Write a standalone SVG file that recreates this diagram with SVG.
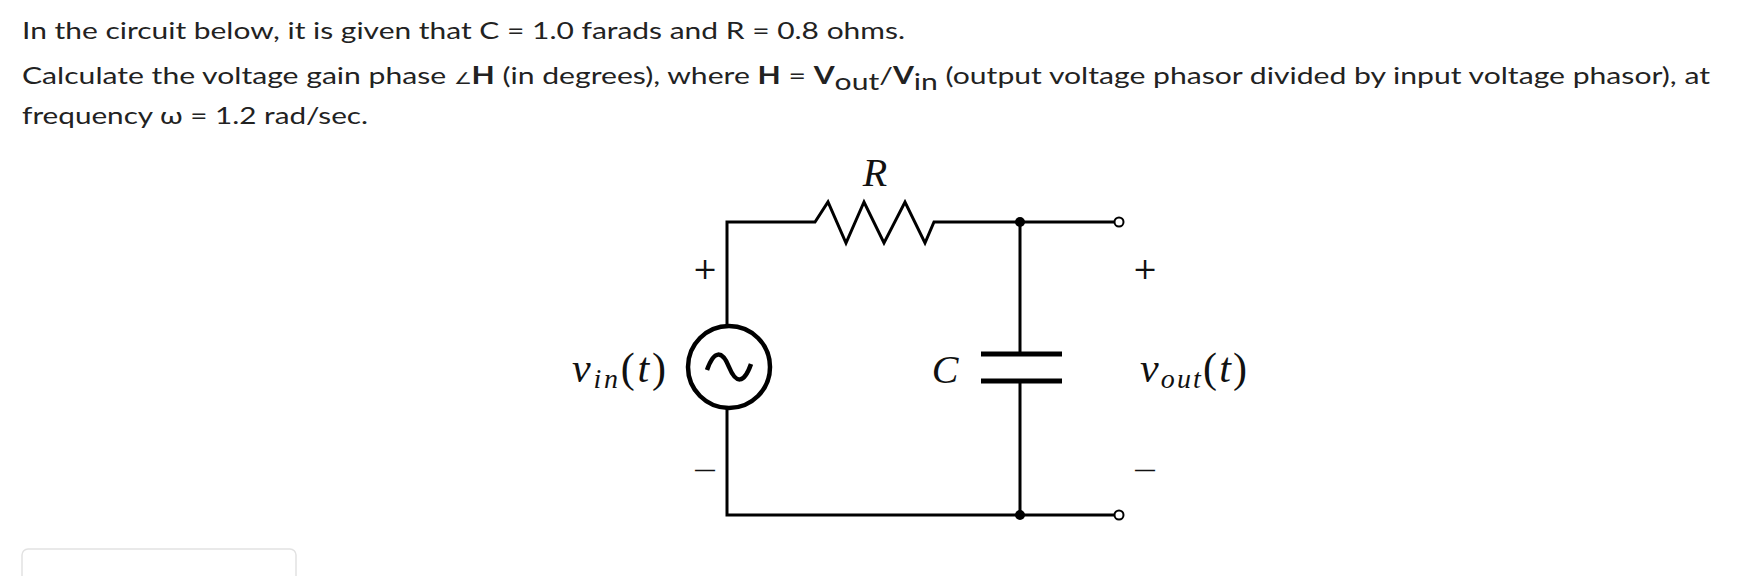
<svg xmlns="http://www.w3.org/2000/svg" width="1750" height="576" viewBox="0 0 1750 576">
<style>
.t{font-family:Lato,"Liberation Sans",sans-serif;font-size:24px;fill:#222}
.m{font-family:"Liberation Serif",serif;font-style:italic;fill:#111}
.s{font-family:"DejaVu Serif",serif;fill:#111}
.w{stroke:#000;stroke-width:3;fill:none}
</style>
<rect width="1750" height="576" fill="#fff"/>
<g id="text">
<text class="t" x="22" y="39" textLength="883" lengthAdjust="spacingAndGlyphs">In the circuit below, it is given that C = 1.0 farads and R = 0.8 ohms.</text>
<text class="t" x="22" y="84" textLength="1688" lengthAdjust="spacingAndGlyphs">Calculate the voltage gain phase <tspan font-size="16">∠</tspan><tspan font-weight="bold">H</tspan> (in degrees), where <tspan font-weight="bold">H</tspan> = <tspan font-weight="bold">V</tspan><tspan dy="6">out</tspan><tspan dy="-6">/</tspan><tspan font-weight="bold">V</tspan><tspan dy="6">in</tspan><tspan dy="-6"> (output voltage phasor divided by input voltage phasor), at</tspan></text>
<text class="t" x="22" y="124" textLength="346" lengthAdjust="spacingAndGlyphs">frequency ω = 1.2 rad/sec.</text>
</g>
<g id="connectors">
<path class="w" d="M727 325 V222 H815 L828 202 L846 243 L864 202 L884 243 L905 202 L925 243 L934 222 H1116"/>
<path class="w" d="M727 409 V515 H1116"/>
<path class="w" d="M1020 222 V354 M1020 381 V515"/>
</g>
<g id="source">
<circle cx="729" cy="367" r="41" fill="#fff" stroke="#000" stroke-width="4.5"/>
<path d="M707 370 C714 350 722 350 729 367 C736 384 744 384 751 364" fill="none" stroke="#000" stroke-width="4.5"/>
</g>
<g id="resistor"><text class="m" x="875" y="186" font-size="40" text-anchor="middle">R</text></g>
<g id="capacitor">
<path d="M981 354 H1062 M981 381 H1062" stroke="#000" stroke-width="5"/>
<text class="m" x="945" y="383" font-size="40" text-anchor="middle">C</text>
</g>
<g id="nodes">
<circle cx="1020" cy="222" r="5" fill="#000"/>
<circle cx="1020" cy="515" r="5" fill="#000"/>
<circle cx="1119" cy="222" r="4.5" fill="#fff" stroke="#000" stroke-width="2"/>
<circle cx="1119" cy="515" r="4.5" fill="#fff" stroke="#000" stroke-width="2"/>
</g>
<g id="labels">
<text class="s" x="705" y="279" font-size="30" text-anchor="middle">+</text>
<text class="s" x="705" y="477" font-size="22" text-anchor="middle">—</text>
<text class="s" x="1145" y="279" font-size="30" text-anchor="middle">+</text>
<text class="s" x="1145" y="477" font-size="22" text-anchor="middle">—</text>
<text class="m" x="572" y="382" font-size="42" textLength="94">v<tspan font-size="28" dy="6">in</tspan><tspan font-style="normal" dy="-6">(</tspan>t<tspan font-style="normal">)</tspan></text>
<text class="m" x="1140" y="382" font-size="42" textLength="107">v<tspan font-size="28" dy="6">out</tspan><tspan font-style="normal" dy="-6">(</tspan>t<tspan font-style="normal">)</tspan></text>
</g>
<rect x="22" y="549" width="274" height="40" rx="6" fill="#fff" stroke="#e2e2e2" stroke-width="1.5"/>
</svg>
